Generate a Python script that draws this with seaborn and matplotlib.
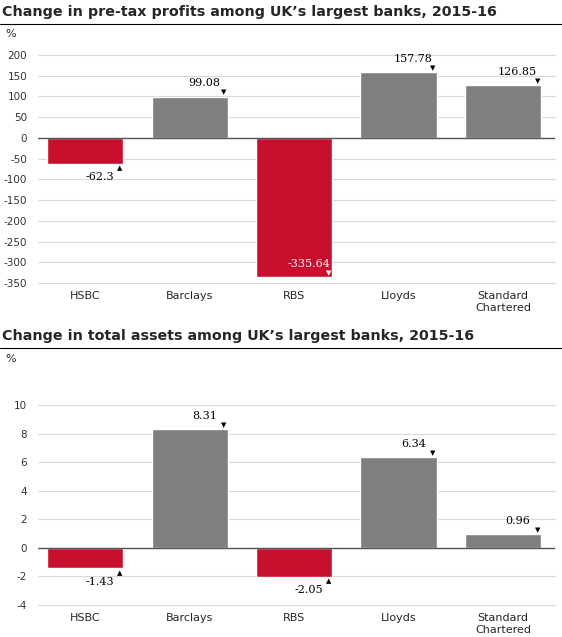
import matplotlib
matplotlib.use("Agg")
import matplotlib.pyplot as plt
import seaborn as sns
import pandas as pd

banks = ["HSBC", "Barclays", "RBS", "Lloyds", "Standard\nChartered"]
profit_change = [-62.3, 99.08, -335.64, 157.78, 126.85]
asset_change = [-1.43, 8.31, -2.05, 6.34, 0.96]

RED = "#c8102e"
GREY = "#7f7f82"

sns.set_theme(style="white")
plt.rcParams["font.family"] = ["DejaVu Sans"]

fig = plt.figure(figsize=(5.62, 6.37), dpi=100)


def note(ax, x, v, lab, up, color):
    # triangle marker next to the bar end, value text beyond it
    sign = 1 if up else -1
    tri = "\u25bc" if up else "\u25b2"
    va = "bottom" if up else "top"
    ax.annotate(tri, (x + 0.33, v), xytext=(0, sign * 1), textcoords="offset points",
                color=color, fontsize=5, ha="center", va=va, zorder=4)
    ax.annotate(lab, (x + 0.14, v), xytext=(0, sign * 6), textcoords="offset points",
                color=color, fontsize=8, family="DejaVu Serif", ha="center", va=va, zorder=4)


def panel(rect, vals, ticks, title, title_y, inside=None):
    ax = fig.add_axes(rect)
    df = pd.DataFrame({"bank": banks, "val": vals})
    cols = [RED if v < 0 else GREY for v in vals]
    sns.barplot(data=df, x="bank", y="val", hue="bank", palette=cols,
                legend=False, width=0.73, saturation=1, ax=ax)
    ax.set_xlim(-0.45, 4.5)
    ax.set_ylim(ticks[0], ticks[-1])
    ax.set_yticks(ticks)
    ax.set_yticklabels([str(t) for t in ticks], fontsize=7.5, color="#333333")
    ax.tick_params(axis="x", labelsize=8, length=0, pad=6)
    ax.tick_params(axis="y", length=0, pad=8)
    ax.set_xlabel("")
    ax.set_ylabel("")
    for t in ticks:
        ax.axhline(t, color="#d9d9d9", lw=0.8, zorder=0, clip_on=False)
    ax.axhline(0, color="#555555", lw=1, zorder=3)
    for s in ax.spines.values():
        s.set_visible(False)
    for i, v in enumerate(vals):
        lab = f"{v:g}"
        if inside is not None and i == inside:
            # label sits inside the bar, pointing down
            ax.annotate("\u25bc", (i + 0.33, v), xytext=(0, 1), textcoords="offset points",
                        color="white", fontsize=5, ha="center", va="bottom", zorder=4)
            ax.annotate(lab, (i + 0.14, v), xytext=(0, 6), textcoords="offset points",
                        color="white", fontsize=8, family="DejaVu Serif",
                        ha="center", va="bottom", zorder=4)
        else:
            note(ax, i, v, lab, v >= 0, "black")
    fig.text(0.004, title_y, title, fontsize=10.3, fontweight="bold", va="center")
    fig.add_artist(plt.Line2D([0, 1], [title_y - 0.018, title_y - 0.018],
                              color="black", lw=0.8))
    fig.text(0.01, title_y - 0.035, "%", fontsize=8, va="center")
    return ax


panel([0.068, 0.5557, 0.92, 0.358], profit_change,
      list(range(-350, 201, 50)),
      "Change in pre-tax profits among UK\u2019s largest banks, 2015-16", 0.981, inside=2)
panel([0.068, 0.0502, 0.92, 0.314], asset_change,
      list(range(-4, 11, 2)),
      "Change in total assets among UK\u2019s largest banks, 2015-16", 0.472)

fig.savefig("out.png", dpi=100)
